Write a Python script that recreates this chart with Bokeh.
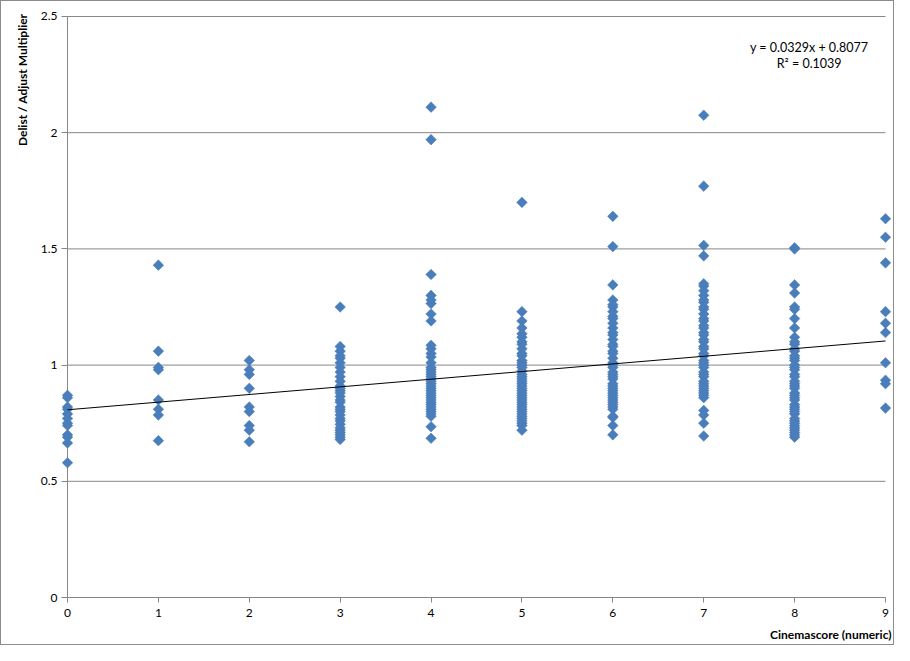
import math
from bokeh.plotting import figure
from bokeh.models import FixedTicker, Label, ColumnDataSource, Range1d, Title
from bokeh.embed import file_html
from bokeh.resources import INLINE

# ---- data ----
score_0 = [0.87, 0.86, 0.82, 0.81, 0.79, 0.77, 0.75, 0.74, 0.70, 0.69, 0.665, 0.58]
score_1 = [1.43, 1.06, 0.99, 0.98, 0.85, 0.81, 0.785, 0.675]
score_2 = [1.02, 0.98, 0.96, 0.90, 0.82, 0.80, 0.74, 0.72, 0.67]
score_3 = [1.25, 1.08, 1.06, 1.04, 1.03, 1.01, 0.99, 0.97, 0.95, 0.93, 0.91, 0.90,
           0.89, 0.88, 0.865, 0.85, 0.84, 0.82, 0.81, 0.80, 0.785, 0.77, 0.76,
           0.745, 0.73, 0.72, 0.71, 0.70, 0.69, 0.68]
score_4 = [2.11, 1.97, 1.39, 1.30, 1.28, 1.265, 1.22, 1.19, 1.085, 1.07, 1.05, 1.035,
           1.01, 0.99, 0.98, 0.97, 0.96, 0.95, 0.94, 0.93, 0.92, 0.91, 0.90, 0.89,
           0.88, 0.87, 0.86, 0.85, 0.84, 0.83, 0.82, 0.81, 0.80, 0.79, 0.78, 0.735, 0.685]
score_5 = [1.70, 1.23, 1.19, 1.16, 1.135, 1.12, 1.10, 1.09, 1.07, 1.05, 1.04, 1.02,
           1.01, 1.00, 0.99, 0.975, 0.96, 0.95, 0.94, 0.93, 0.92, 0.91, 0.90, 0.89,
           0.88, 0.87, 0.86, 0.85, 0.84, 0.83, 0.82, 0.81, 0.80, 0.79, 0.78, 0.77,
           0.76, 0.75, 0.74, 0.72]
score_6 = [1.64, 1.51, 1.345, 1.28, 1.26, 1.25, 1.23, 1.21, 1.20, 1.18, 1.16, 1.14,
           1.13, 1.11, 1.09, 1.08, 1.06, 1.05, 1.03, 1.01, 1.00, 0.99, 0.97, 0.96,
           0.95, 0.94, 0.92, 0.91, 0.90, 0.89, 0.88, 0.87, 0.86, 0.85, 0.84, 0.83,
           0.82, 0.81, 0.78, 0.775, 0.74, 0.70]
score_7 = [2.075, 1.77, 1.515, 1.47, 1.35, 1.34, 1.32, 1.30, 1.28, 1.27, 1.25, 1.24,
           1.22, 1.20, 1.19, 1.17, 1.16, 1.14, 1.13, 1.11, 1.10, 1.08, 1.07, 1.05,
           1.04, 1.02, 1.01, 1.00, 0.99, 0.97, 0.96, 0.95, 0.93, 0.92, 0.91, 0.90,
           0.89, 0.88, 0.87, 0.86, 0.805, 0.785, 0.75, 0.695]
score_8 = [1.505, 1.50, 1.345, 1.31, 1.25, 1.24, 1.20, 1.16, 1.12, 1.10, 1.09, 1.07,
           1.06, 1.04, 1.03, 1.02, 1.00, 0.99, 0.98, 0.96, 0.95, 0.93, 0.92, 0.91,
           0.90, 0.88, 0.87, 0.86, 0.85, 0.83, 0.82, 0.81, 0.80, 0.79, 0.77, 0.76,
           0.75, 0.74, 0.73, 0.72, 0.71, 0.70, 0.69]
score_9 = [1.63, 1.55, 1.44, 1.23, 1.18, 1.14, 1.01, 0.935, 0.92, 0.815]

groups = [score_0, score_1, score_2, score_3, score_4,
          score_5, score_6, score_7, score_8, score_9]

trend_slope = 0.0329
trend_intercept = 0.8077
equation_text = "y = 0.0329x + 0.8077"
r2_text = "R² = 0.1039"

x_ticks = [0, 1, 2, 3, 4, 5, 6, 7, 8, 9]
y_ticks = [0, 0.5, 1, 1.5, 2, 2.5]
y_tick_labels = ["0", "0.5", "1", "1.5", "2", "2.5"]

x_title = "Cinemascore (numeric)"
y_title = "Delist / Adjust Multiplier"

# ---- build the scatter table ----
xs, ys = [], []
for score, vals in enumerate(groups):
    xs.extend([score] * len(vals))
    ys.extend(vals)
src = ColumnDataSource(dict(x=xs, y=ys))

FONT = "Lato"
GRID = "#868686"

x_lo, x_hi = x_ticks[0], x_ticks[-1]
y_lo, y_hi = y_ticks[0], y_ticks[-1]
# small padding so edge markers are not cut by the frame
x_pad = 6 / 90.89
y_pad = 3 / 233.2

p = figure(width=894, height=645, output_backend="svg", toolbar_location=None,
           x_range=Range1d(x_lo - x_pad, x_hi + x_pad),
           y_range=Range1d(y_lo - y_pad, y_hi + y_pad),
           min_border_left=60, min_border_right=4,
           min_border_top=12, min_border_bottom=44)
p.styles = {"border": "1px solid #8c8c8c", "box-sizing": "border-box"}
p.outline_line_color = None
p.background_fill_color = "white"
p.border_fill_color = "white"
p.xgrid.grid_line_color = None
p.ygrid.grid_line_color = None

# horizontal grid lines spanning the axis extent
p.segment(x0=[x_lo] * len(y_ticks), x1=[x_hi] * len(y_ticks), y0=y_ticks, y1=y_ticks,
          line_color=GRID, line_width=1)
# y axis line at x = 0
p.segment(x0=[x_lo], x1=[x_lo], y0=[y_lo], y1=[y_hi], line_color=GRID, line_width=1)

# axes (lines hidden; ticks reach the data-origin lines)
for ax in (p.xaxis[0], p.yaxis[0]):
    ax.axis_line_color = None
    ax.major_tick_line_color = GRID
    ax.minor_tick_line_color = None
    ax.major_label_text_font = FONT
    ax.major_label_text_font_size = "12px"
    ax.major_label_text_color = "black"

p.yaxis.major_tick_in = 6
p.yaxis.major_tick_out = 0
p.yaxis.major_label_standoff = 4
p.xaxis.major_tick_in = 3
p.xaxis.major_tick_out = 2
p.xaxis.major_label_standoff = 6

p.xaxis.ticker = FixedTicker(ticks=x_ticks)
p.xaxis.major_label_overrides = {t: str(t) for t in x_ticks}
p.yaxis.ticker = FixedTicker(ticks=y_ticks)
p.yaxis.major_label_overrides = {t: lab for t, lab in zip(y_ticks, y_tick_labels)}

# scatter points (diamonds = rotated squares)
p.scatter("x", "y", source=src, marker="square", angle=math.pi / 4,
          size=7.5, fill_color="#4A7EBB", line_color="#4A7EBB", line_width=0.5)

# trend line
trend_x = [x_lo, x_hi]
trend_y = [trend_slope * v + trend_intercept for v in trend_x]
p.line(trend_x, trend_y, line_color="black", line_width=1)

# equation text
p.add_layout(Label(x=8.16, y=2.367, text=equation_text, text_align="center",
                   text_baseline="middle", text_font=FONT,
                   text_font_size="12.5px", text_color="black"))
p.add_layout(Label(x=8.16, y=2.298, text=r2_text, text_align="center",
                   text_baseline="middle", text_font=FONT,
                   text_font_size="12.5px", text_color="black"))

# axis titles
p.add_layout(Title(text=y_title, align="right", text_font=FONT, standoff=16,
                   text_font_size="12px", text_font_style="bold",
                   text_color="black"), "left")
p.add_layout(Title(text=x_title, align="right", text_font=FONT,
                   text_font_size="12px", text_font_style="bold",
                   text_color="black"), "below")

open("out.html", "w").write(file_html(p, INLINE))
